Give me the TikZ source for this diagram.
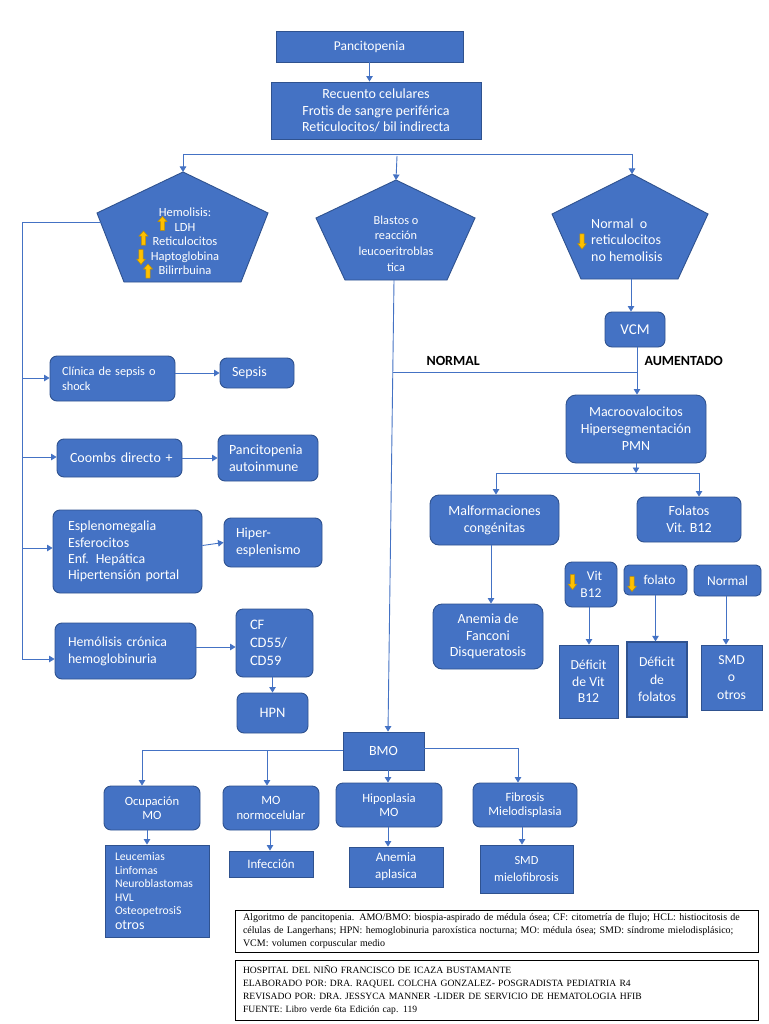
\documentclass[tikz,border=0pt]{standalone}
\usepackage{fontspec}
\setmainfont{Carlito}
\newfontfamily\capfont{Liberation Serif}
\usetikzlibrary{arrows.meta,calc}

\definecolor{boxblue}{HTML}{4472C4}
\definecolor{boxedge}{HTML}{2F528F}
\definecolor{linkblue}{HTML}{4472C4}
\definecolor{arrfill}{HTML}{FFC000}
\definecolor{arredge}{HTML}{BF9000}

\newcommand{\fz}[2]{\fontsize{#1}{#2}\selectfont}

\begin{document}
\begin{tikzpicture}[x=1pt,y=-1pt,
  blk/.style={draw=boxedge, fill=boxblue, text=white, line width=0.9pt, inner sep=0pt, align=center},
  sbox/.style={blk},
  rbox/.style={blk, rounded corners=7pt},
  sz/.style 2 args={minimum width=#1, minimum height=#2},
  lbox/.style 2 args={rbox, text width=#1, inner xsep=#2, align=left},
  pent/.style={draw=boxedge, fill=boxblue, line width=0.9pt},
  lnk/.style={draw=linkblue, line width=0.9pt},
  arr/.style={lnk, -{Triangle[length=5.5pt,width=6.5pt]}},
  note/.style={draw=black, fill=white, line width=0.8pt, text=black, inner ysep=0pt, align=left},
  lbl/.style={font=\bfseries\fz{14}{16}, text=black},
  upmark/.pic={\path[fill=arrfill, draw=arredge, line width=0.5pt]
    (0,-7) -- (4.6,-1.8) -- (2.2,-1.8) -- (2.2,7) -- (-2.2,7) -- (-2.2,-1.8) -- (-4.6,-1.8) -- cycle;},
  downmark/.pic={\path[fill=arrfill, draw=arredge, line width=0.5pt]
    (0,7.5) -- (4.4,2) -- (2.1,2) -- (2.1,-7.5) -- (-2.1,-7.5) -- (-2.1,2) -- (-4.4,2) -- cycle;}
]
\fill[white] (0,0) rectangle (768,1024);
\useasboundingbox (0,0) rectangle (768,1024);

% ---------- top of the algorithm ----------
\node[sbox, sz={187}{31}, font=\fz{13.5}{15}] (pan) at (369.5,46.5) {Pancitopenia};
\node[sbox, sz={210}{57}, font=\fz{14}{16.5}] (rec) at (376,110.5)
  {Recuento celulares\\Frotis de sangre periférica\\Reticulocitos/ bil indirecta};
\draw[arr] (pan.south) -- (pan.south |- rec.north);

% ---------- three pentagons ----------
\path[pent] (183,172) -- (268,213) -- (241,282) -- (124,282) -- (97,213) -- cycle;
\path[pent] (396,180) -- (475,218) -- (447,280) -- (345,280) -- (316,218) -- cycle;
\path[pent] (632,174) -- (708,214) -- (678,279) -- (581,279) -- (552,214) -- cycle;
\coordinate (pLt) at (183,172);
\coordinate (pLl) at (100.5,222);
\coordinate (pMt) at (396,180);
\coordinate (pMb) at (394,280);
\coordinate (pRt) at (632,174);
\coordinate (pRb) at (631,279);

\node[text=white, align=center, font=\fz{12.5}{14.4}] (hem) at (185,241.5)
  {Hemolisis:\\LDH\\Reticulocitos\\Haptoglobina\\Bilirrbuina};
\pic at (162.5,223.5) {upmark};
\pic at (143.5,238) {upmark};
\pic at (141,257) {downmark};
\pic at (148,271) {upmark};

\node[text=white, align=center, font=\fz{12.3}{15.6}] (bla) at (396,243.5)
  {Blastos o\\reacción\\leucoeritroblas\\tica};

\node[text=white, align=left, anchor=west, inner sep=0pt, font=\fz{14}{16.5}] (nrm) at (591,240)
  {Normal\ \ o\\reticulocitos\\no hemolisis};
\pic at (582,241.5) {downmark};

% split below the first tests
\coordinate (s1) at (183,154);
\coordinate (s2) at (397,154);
\coordinate (s2b) at (397,156);
\coordinate (s3) at (632,154);
\draw[lnk] (s1) -- (s3);
\draw[arr] (s1) -- (pLt);
\draw[arr] (s2b) -- (pMt);
\draw[arr] (s3) -- (pRt);

% ---------- hemolysis branch ----------
\node[lbox={101}{12}, minimum height=45, font=\fz{12.3}{15}] (cli) at (112.5,378.5) {Clínica de sepsis o\\shock};
\node[lbox={50}{12}, minimum height=30, font=\fz{14}{15}] (sep) at (257,373) {Sepsis};
\node[lbox={112}{6.5}, minimum height=38, font=\fz{14}{15}] (coo) at (119.5,458) {\hspace*{6.5pt}Coombs directo +};
\node[lbox={78}{11}, minimum height=46, font=\fz{14}{17}] (pau) at (268,458) {Pancitopenia\\autoinmune};
\node[lbox={119}{15}, minimum height=83, font=\fz{13.9}{16.3}] (esp) at (127.5,551.5)
  {Esplenomegalia\\Esferocitos\\Enf. Hepática\\Hipertensión portal};
\node[lbox={74}{12}, minimum height=49, font=\fz{14}{17}] (hip) at (273,542.5) {Hiper-\\esplenismo};
\node[lbox={115}{13}, minimum height=56, font=\fz{13.8}{17}] (hcr) at (125.5,651) {Hemólisis crónica\\hemoglobinuria};
\node[lbox={49}{14}, minimum height=68, font=\fz{14.5}{18}] (cf) at (274.5,643) {CF\\CD55/\\CD59};
\node[rbox, sz={71}{40}, font=\fz{14.5}{16}] (hpn) at (272.5,713) {HPN};

\coordinate (lv0) at (22,222);
\coordinate (b1) at (22,378);
\coordinate (b2) at (22,457);
\coordinate (b3) at (22,548);
\coordinate (b4) at (22,659);
\draw[lnk] (pLl) -- (lv0) -- (b4);
\draw[arr] (b1) -- (b1 -| cli.west);
\draw[arr] (b2) -- (b2 -| coo.west);
\draw[arr] (b3) -- (b3 -| esp.west);
\draw[arr] (b4) -- (b4 -| hcr.west);

\coordinate (e1) at ($(esp.east)+(0,-6)$);
\coordinate (h1) at ($(hcr.east)+(0,-4)$);
\coordinate (h2) at ($(cf.west)+(0,4)$);
\draw[arr] (cli.east |- sep.west) -- (sep.west);
\draw[arr] (coo.east) -- (pau.west);
\draw[arr] (e1) -- (hip.west);
\draw[arr] (h1) -- (h2);
\draw[arr] (cf.south -| hpn.north) -- (hpn.north);

% ---------- blasts branch down to the marrow study ----------
\node[sbox, sz={81}{38}, font=\fz{14}{16}] (bmo) at (383.5,751) {BMO};
\coordinate (bin) at ($(bmo.north)+(4.5,0)$);
\coordinate (nl) at (393,372);
\draw[arr] (pMb) -- (bin);

% ---------- normal reticulocytes branch ----------
\node[rbox, sz={60}{35}, font=\fz{15}{16}] (vcm) at (635,329.5) {VCM};
\draw[arr] (pRb) -- (pRb |- vcm.north);
\coordinate (vj) at (637,372);
\draw[lnk] (vj) -- (nl);
\node[lbl, anchor=west] (lnorm) at (423,361) {NORMAL};
\node[lbl, anchor=west] (laum) at (641,361) {AUMENTADO};

\node[rbox, rounded corners=10pt, sz={140}{68}, font=\fz{14}{17}] (mac) at (636,429)
  {Macroovalocitos\\Hipersegmentación\\PMN};
\coordinate (vout) at (637,347);
\draw[arr] (vout) -- (vout |- mac.north);

\coordinate (mj) at (636,473);
\coordinate (j1) at (496,473);
\coordinate (j2) at (699,473);
\draw[arr] (mac.south) -- (mj);
\draw[lnk] (j1) -- (j2);

\node[rbox, rounded corners=9pt, sz={129}{50}, font=\fz{14}{17}] (mal) at (494.5,520) {Malformaciones\\congénitas};
\node[rbox, sz={104}{45}, font=\fz{14}{17}] (fol) at (689,519.5) {Folatos\\Vit. B12};
\draw[arr] (j1) -- (j1 |- mal.north);
\draw[arr] (j2) -- (j2 |- fol.north);

\node[rbox, rounded corners=9pt, sz={110}{65}, font=\fz{14}{16.5}] (fan) at (488,636.5) {Anemia de\\Fanconi\\Disqueratosis};
\coordinate (mo) at (491,545);
\draw[arr] (mo) -- (mo |- fan.north);

\node[rbox, sz={52}{45}, font=\fz{13.5}{17}] (vb) at (591,584.5) {\hspace*{7pt}Vit\\B12};
\pic at (572.5,582) {downmark};
\node[rbox, rounded corners=5pt, sz={63}{30}, font=\fz{13.5}{15}] (fo) at (655.5,580) {\hspace*{8pt}folato};
\pic at (632,584) {downmark};
\node[rbox, rounded corners=5pt, sz={67}{31}, font=\fz{13.5}{15}] (nor) at (727.5,580.5) {Normal};

\node[sbox, sz={59}{73}, font=\fz{13.7}{16.5}] (dvb) at (588.5,681.5) {Déficit\\de Vit\\B12};
\node[sbox, line width=1.3pt, sz={60}{75}, font=\fz{13.7}{17.5}] (dfo) at (657,679.5) {Déficit\\de\\folatos};
\node[sbox, sz={61}{65}, font=\fz{13.7}{17.5}] (smd) at (731.5,677.5) {SMD\\o\\otros};
\coordinate (vbo) at (589,607);
\coordinate (foo) at (655.5,595);
\coordinate (noo) at (726,596);
\draw[arr] (vbo) -- (vbo |- dvb.north);
\draw[arr] (foo) -- (foo |- dfo.north);
\draw[arr] (noo) -- (noo |- smd.north);

% ---------- bone marrow results ----------
\node[rbox, sz={96}{44}, font=\fz{12.6}{14.5}] (ocu) at (152,808) {Ocupación\\MO};
\node[rbox, sz={96}{44}, font=\fz{12.6}{14.5}] (mon) at (271,808) {MO\\normocelular};
\node[rbox, sz={106}{44}, font=\fz{12.6}{14.5}] (hpo) at (389,805) {Hipoplasia\\MO};
\node[rbox, sz={104}{44}, font=\fz{12.6}{14.5}] (fib) at (525,805) {Fibrosis\\Mielodisplasia};

\coordinate (m1) at (142,750);
\coordinate (m2) at (267,750);
\coordinate (m3) at (388,770);
\coordinate (m4) at (518,748);
\draw[lnk] (m1) -- (m1 -| bmo.west);
\draw[lnk] (m4 -| bmo.east) -- (m4);
\draw[arr] (m1) -- (m1 |- ocu.north);
\draw[arr] (m2) -- (m2 |- mon.north);
\draw[arr] (m3) -- (m3 |- hpo.north);
\draw[arr] (m4) -- (m4 |- fib.north);

\node[sbox, text width=84, inner xsep=10, align=left, minimum height=92, font=\fz{11.7}{13.5}] (leu) at (157,891)
  {Leucemias\\Linfomas\\Neuroblastomas\\HVL\\OsteopetrosiS\\[1pt]{\fz{14}{15}otros}};
\node[sbox, sz={84}{26}, font=\fz{12.9}{14}] (inf) at (271,864) {Infección};
\node[sbox, sz={94}{40}, font=\fz{13}{17}] (ana) at (396,867) {Anemia\\aplasica};
\node[sbox, sz={93}{48}, font=\fz{12.4}{17}] (smf) at (526.5,869) {SMD\\mielofibrosis};

\coordinate (o1) at (147,830);
\coordinate (o2) at (270,830);
\coordinate (o3) at (388,827);
\coordinate (o4) at (522,827);
\draw[arr] (o1) -- (o1 |- leu.north);
\draw[arr] (o2) -- (o2 |- inf.north);
\draw[arr] (o3) -- (o3 |- ana.north);
\draw[arr] (o4) -- (o4 |- smf.north);

% ---------- notes ----------
\node[note, text width=507, inner xsep=8, minimum height=42, font=\capfont\fz{10}{13}] (cap) at (496.5,931)
  {Algoritmo de pancitopenia. AMO/BMO: biospia-aspirado de médula ósea; CF: citometría de flujo; HCL: histiocitosis de\\
   células de Langerhans; HPN: hemoglobinuria paroxística nocturna; MO: médula ósea; SMD: síndrome mielodisplásico;\\
   VCM: volumen corpuscular medio};
\node[note, text width=507, inner xsep=8, minimum height=60, font=\capfont\fz{9.6}{12.7}] (cred) at (496.5,990)
  {HOSPITAL DEL NIÑO FRANCISCO DE ICAZA BUSTAMANTE\\
   ELABORADO POR: DRA. RAQUEL COLCHA GONZALEZ- POSGRADISTA PEDIATRIA R4\\
   REVISADO POR: DRA. JESSYCA MANNER -LIDER DE SERVICIO DE HEMATOLOGIA HFIB\\
   FUENTE: Libro verde 6ta Edición cap. 119};
\end{tikzpicture}
\end{document}
